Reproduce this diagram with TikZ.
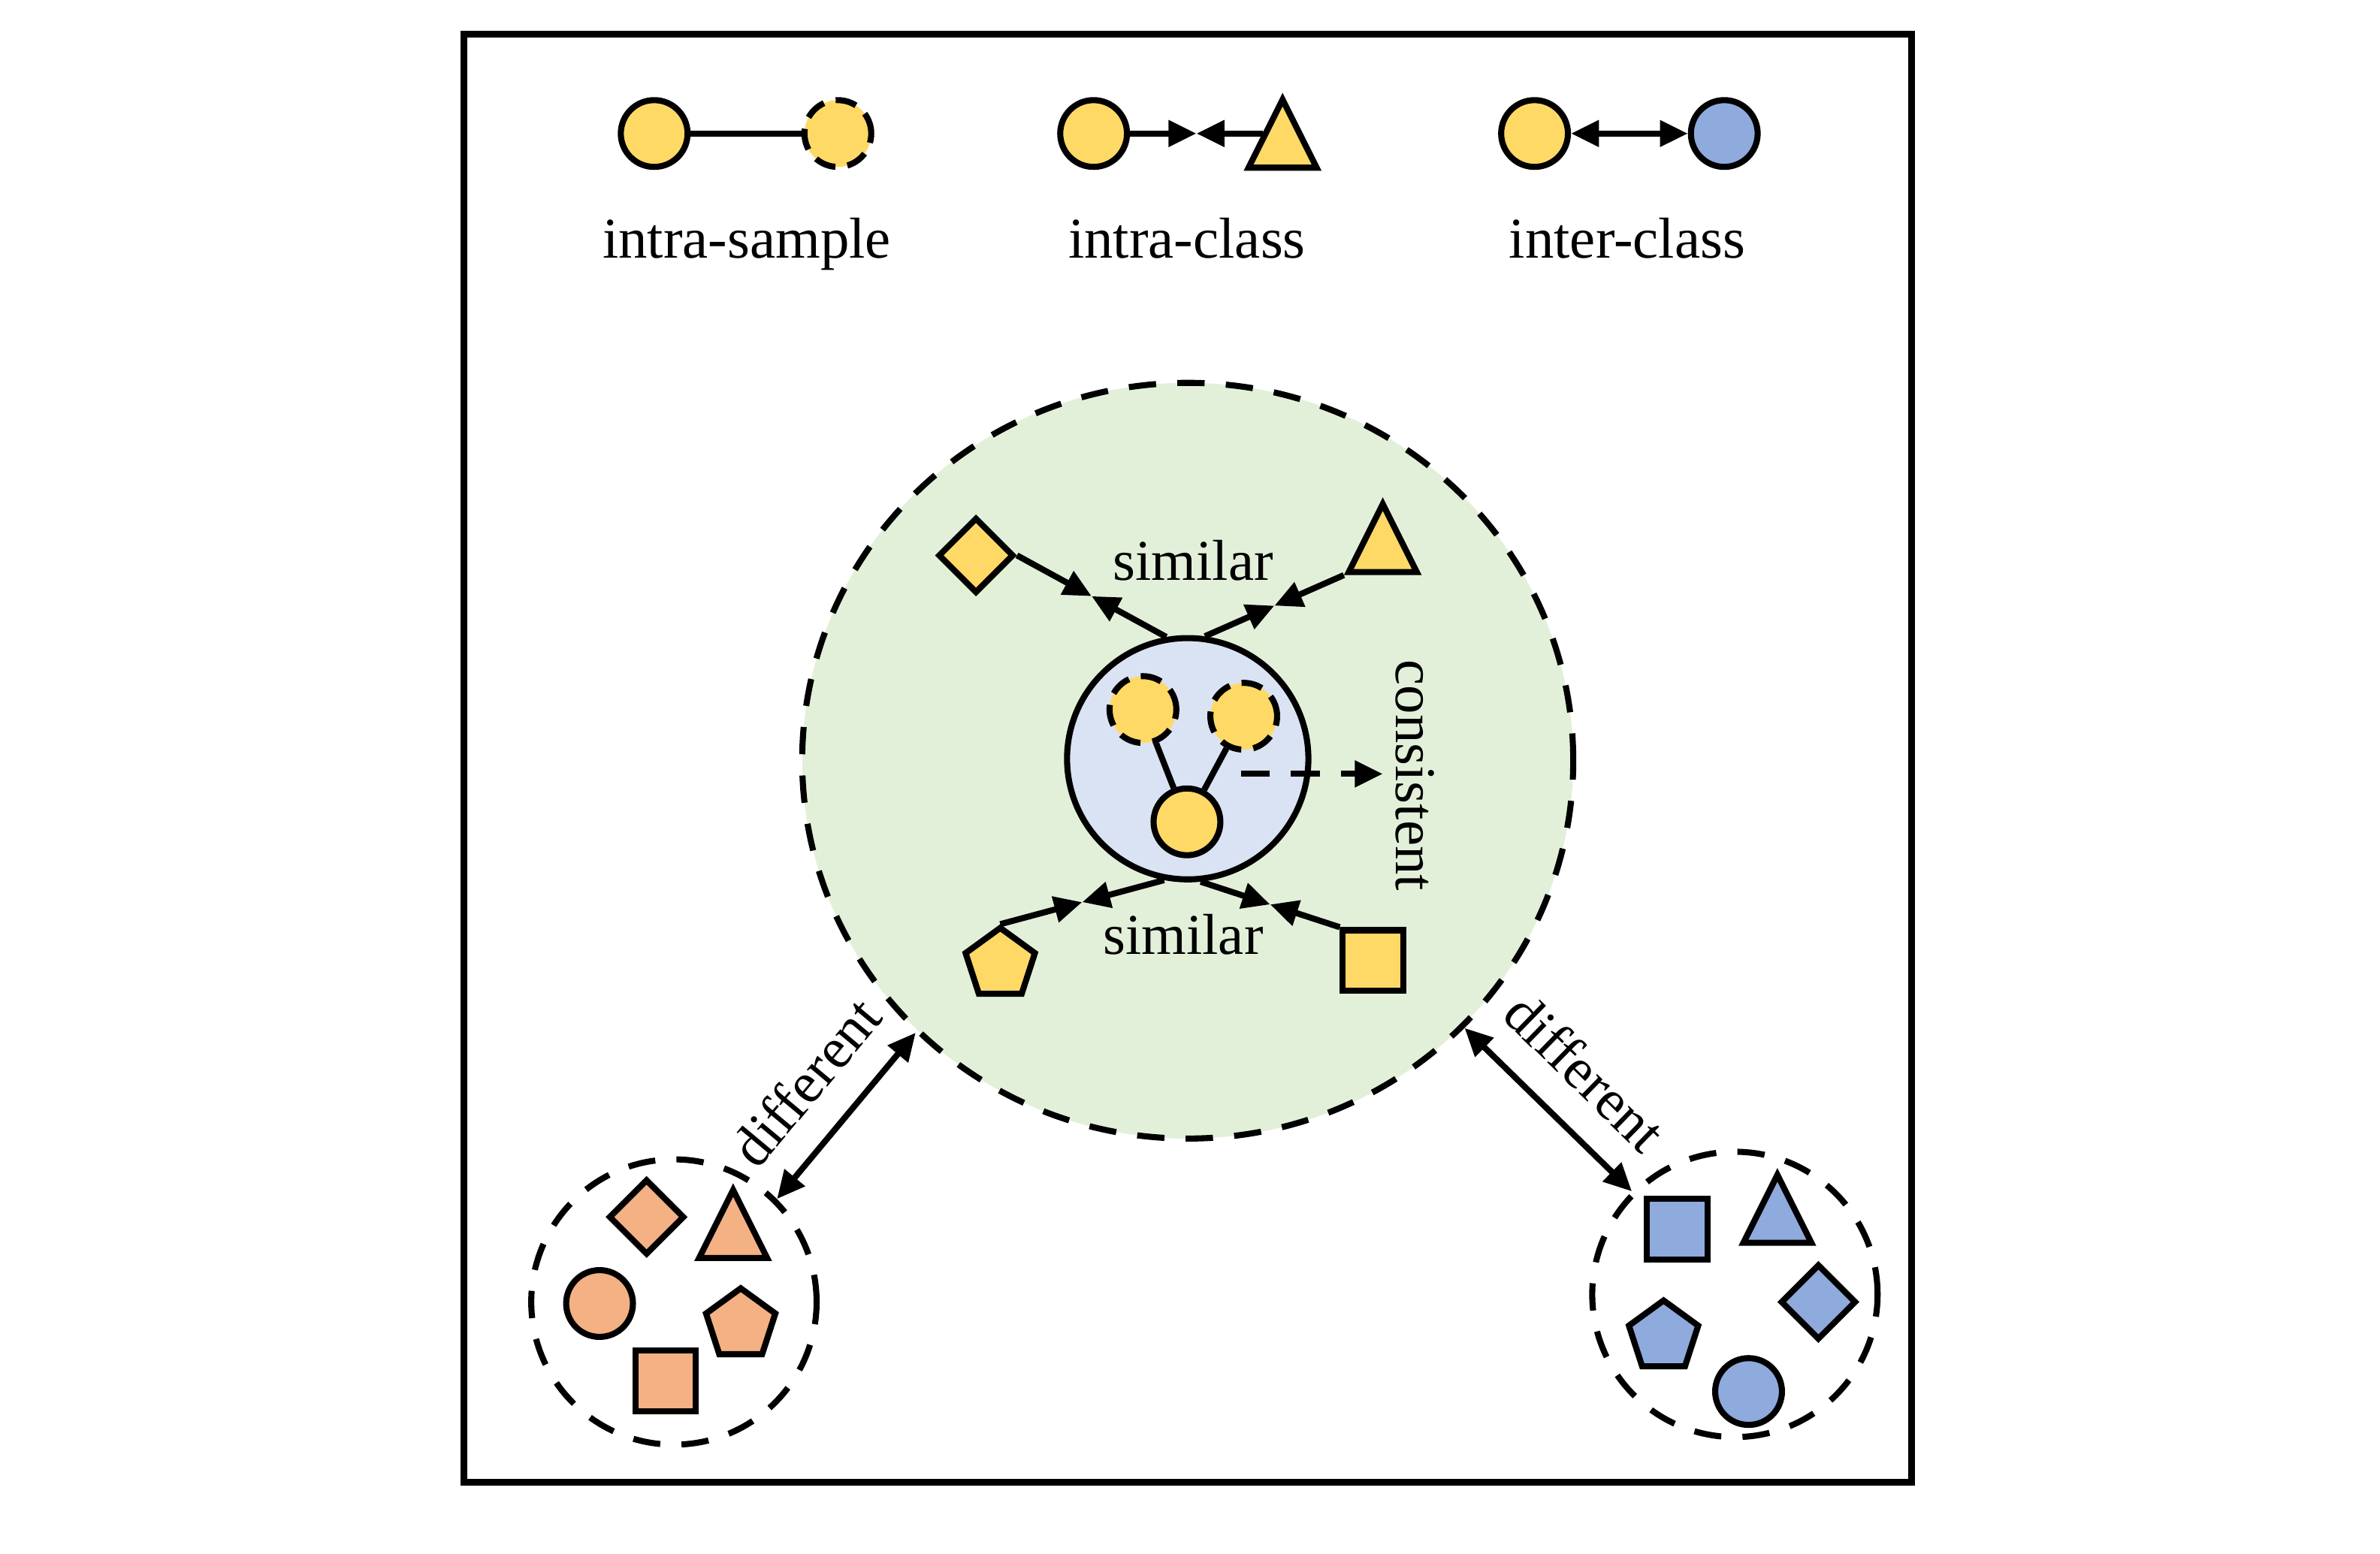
\documentclass[tikz,border=0pt]{standalone}
\usepackage{fontspec}
\setmainfont{Liberation Serif}
\usetikzlibrary{arrows.meta,shapes.geometric,calc}

\definecolor{gold}{HTML}{FFD966}
\definecolor{peach}{HTML}{F4B183}
\definecolor{cornflower}{HTML}{8FAADC}
\definecolor{sage}{HTML}{E2F0D9}
\definecolor{paleblue}{HTML}{DAE3F3}

\tikzset{
  every node/.style={font=\fontsize{9.5}{11}\selectfont},
  >={Triangle[length=4.6pt,width=4.2pt]},
  lw/.style={line width=1pt},
  item/.style={draw, lw, inner sep=0pt, fill=gold},
  ball/.style={item, circle, minimum size=11pt},
  dball/.style={ball, dash pattern=on 3.5pt off 2pt},
  sqbox/.style={item, rectangle, minimum size=10pt},
  rhomb/.style={item, diamond, minimum size=12.5pt},
  penta/.style={item, regular polygon, regular polygon sides=5, minimum size=12pt},
  tri/.style={item, isosceles triangle, isosceles triangle stretches,
    shape border rotate=90, minimum width=11.2pt, minimum height=11.2pt, anchor=lower side},
  group/.style={draw, lw, inner sep=0pt, dash pattern=on 4.5pt off 3.5pt},
}

\begin{document}
\begin{tikzpicture}[x=0.25pt,y=-0.25pt]
\useasboundingbox (0,0) rectangle (1568,1023.6);
\draw[line width=1.1pt] (305.5,22.7) rectangle (1259.5,977);

% legend
\node[ball] (k1) at (431,88) {};
\node[dball] (k2) at (552,88) {};
\draw[lw] (k1) -- (k2);
\node[ball] (k3) at (720.5,88) {};
\node[tri] (k4) at (845,112.5) {};
\coordinate (k34) at (832,88);
\node[ball] (k5) at (1011,88) {};
\node[ball, fill=cornflower] (k6) at (1136,88) {};
\draw[lw, <->] (k5) -- (k6);
\node[anchor=base] (t1) at (492,170) {intra-sample};
\node[anchor=base] (t2) at (782,170) {intra-class};
\node[anchor=base] (t3) at (1072,170) {inter-class};

% positive group
\node[group, ellipse, fill=sage, minimum width=127pt, minimum height=124.5pt] (pos) at (782.5,501.3) {};
\node[draw, lw, circle, inner sep=0pt, fill=paleblue, minimum size=39.75pt] (core) at (782.5,500) {};
\node[dball] (d1) at (753,467.6) {};
\node[dball] (d2) at (819.4,472) {};
\node[ball] (s0) at (782,541.6) {};
\draw[lw] (s0) -- (d1);
\draw[lw] (s0) -- (d2);
\coordinate (cs) at (817.5,510);
\coordinate (ce) at (911,510);
\draw[lw, ->, dash pattern=on 4.75pt off 3.5pt] (cs) -- (ce);
\node[rotate=-90] (cons) at (932.5,511) {consistent};

\node[rhomb] (r1) at (643,366) {};
\node[tri] (g1) at (911,379) {};
\node[penta] (p1) at (659,635.5) {};
\node[sqbox] (q1) at (904.6,633) {};
\node[anchor=base] (simA) at (786,382.5) {similar};
\node[anchor=base] (simB) at (779.5,629) {similar};

% pulled together: tips meet half way
\foreach \a/\b/\m in {k3.east/k34/mk, r1.east/core.100/m1, g1.left corner/core.82/m2,
    p1.corner 1/core.259/m3, q1.north west/core.276/m4}{
  \coordinate (\m) at ($(\a)!0.5!(\b)$);
  \draw[lw, ->] (\a) -- (\m);
  \draw[lw, ->] (\b) -- (\m);
}

% negative groups
\node[group, circle, minimum size=47pt] (neg1) at (444,858) {};
\node[rhomb, fill=peach] (r2) at (426,802) {};
\node[tri, fill=peach] (g2) at (483,831) {};
\node[ball, fill=peach] (b2) at (395,859) {};
\node[penta, fill=peach] (p2) at (488,873) {};
\node[sqbox, fill=peach] (q2) at (438.5,910) {};

\node[group, circle, minimum size=47pt] (neg2) at (1143,853) {};
\node[sqbox, fill=cornflower] (q3) at (1105,810) {};
\node[tri, fill=cornflower] (g3) at (1171,821) {};
\node[rhomb, fill=cornflower] (r3) at (1198,858) {};
\node[penta, fill=cornflower] (p3) at (1096,881) {};
\node[ball, fill=cornflower] (b3) at (1152,917) {};

\draw[lw, <->] (pos.225) -- node[sloped, above=1.5pt] (difA) {different} (neg1.45);
\draw[lw, <->] (pos.-44) -- node[sloped, above=1.5pt] (difB) {different} (neg2.135);
\end{tikzpicture}
\end{document}
